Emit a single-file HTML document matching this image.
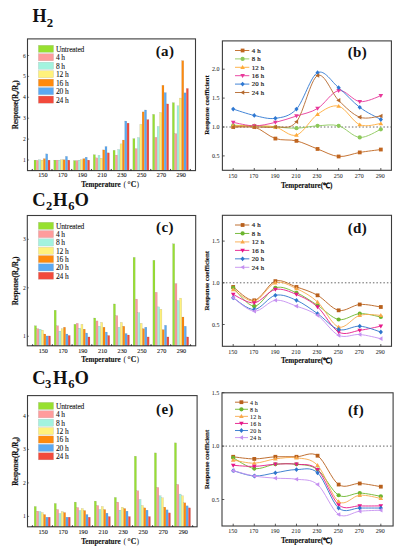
<!DOCTYPE html>
<html><head><meta charset="utf-8"><style>
html,body{margin:0;padding:0;background:#fff;width:401px;height:550px;overflow:hidden}
svg{display:block}
text{font-family:"Liberation Serif", serif;fill:#111}
</style></head><body>
<svg width="401" height="550" viewBox="0 0 401 550">
<rect width="401" height="550" fill="#fff"/>
<text x="32.6" y="21.8" font-size="18" font-weight="bold" fill="#111">H</text>
<text x="46.8" y="26.7" font-size="12.8" font-weight="bold" fill="#111">2</text>
<text x="32.3" y="205.6" font-size="18.5" font-weight="bold" fill="#111">C</text>
<text x="45.9" y="210" font-size="12.5" font-weight="bold" fill="#111">2</text>
<text x="53" y="205.6" font-size="18.5" font-weight="bold" fill="#111">H</text>
<text x="68.2" y="210" font-size="12.5" font-weight="bold" fill="#111">6</text>
<text x="74.6" y="205.6" font-size="18.5" font-weight="bold" fill="#111">O</text>
<text x="32.3" y="383.5" font-size="18.5" font-weight="bold" fill="#111">C</text>
<text x="45" y="388.3" font-size="12.5" font-weight="bold" fill="#111">3</text>
<text x="53" y="383.5" font-size="18.5" font-weight="bold" fill="#111">H</text>
<text x="68.2" y="388.3" font-size="12.5" font-weight="bold" fill="#111">6</text>
<text x="74.6" y="383.5" font-size="18.5" font-weight="bold" fill="#111">O</text>
<rect x="34.05" y="160.15" width="2.03" height="10.6" fill="#97e030" stroke="rgba(0,0,0,0.22)" stroke-width="0.35"/>
<rect x="36.38" y="160.36" width="2.03" height="10.39" fill="#ff9c9c" stroke="rgba(0,0,0,0.22)" stroke-width="0.35"/>
<rect x="38.71" y="159.73" width="2.03" height="11.02" fill="#a3f3df" stroke="rgba(0,0,0,0.22)" stroke-width="0.35"/>
<rect x="41.04" y="160.15" width="2.03" height="10.6" fill="#fff27c" stroke="rgba(0,0,0,0.22)" stroke-width="0.35"/>
<rect x="43.37" y="158.69" width="2.03" height="12.06" fill="#ff8a0c" stroke="rgba(0,0,0,0.22)" stroke-width="0.35"/>
<rect x="45.7" y="153.88" width="2.03" height="16.87" fill="#5ba9f2" stroke="rgba(0,0,0,0.22)" stroke-width="0.35"/>
<rect x="48.03" y="160.15" width="2.03" height="10.6" fill="#f24a3c" stroke="rgba(0,0,0,0.22)" stroke-width="0.35"/>
<rect x="53.81" y="160.15" width="2.03" height="10.6" fill="#97e030" stroke="rgba(0,0,0,0.22)" stroke-width="0.35"/>
<rect x="56.14" y="160.15" width="2.03" height="10.6" fill="#ff9c9c" stroke="rgba(0,0,0,0.22)" stroke-width="0.35"/>
<rect x="58.47" y="160.15" width="2.03" height="10.6" fill="#a3f3df" stroke="rgba(0,0,0,0.22)" stroke-width="0.35"/>
<rect x="60.8" y="159.73" width="2.03" height="11.02" fill="#fff27c" stroke="rgba(0,0,0,0.22)" stroke-width="0.35"/>
<rect x="63.13" y="159.73" width="2.03" height="11.02" fill="#ff8a0c" stroke="rgba(0,0,0,0.22)" stroke-width="0.35"/>
<rect x="65.46" y="156.39" width="2.03" height="14.36" fill="#5ba9f2" stroke="rgba(0,0,0,0.22)" stroke-width="0.35"/>
<rect x="67.79" y="160.15" width="2.03" height="10.6" fill="#f24a3c" stroke="rgba(0,0,0,0.22)" stroke-width="0.35"/>
<rect x="73.57" y="160.57" width="2.03" height="10.18" fill="#97e030" stroke="rgba(0,0,0,0.22)" stroke-width="0.35"/>
<rect x="75.9" y="160.57" width="2.03" height="10.18" fill="#ff9c9c" stroke="rgba(0,0,0,0.22)" stroke-width="0.35"/>
<rect x="78.23" y="160.15" width="2.03" height="10.6" fill="#a3f3df" stroke="rgba(0,0,0,0.22)" stroke-width="0.35"/>
<rect x="80.56" y="159.73" width="2.03" height="11.02" fill="#fff27c" stroke="rgba(0,0,0,0.22)" stroke-width="0.35"/>
<rect x="82.89" y="158.69" width="2.03" height="12.06" fill="#ff8a0c" stroke="rgba(0,0,0,0.22)" stroke-width="0.35"/>
<rect x="85.22" y="157.22" width="2.03" height="13.53" fill="#5ba9f2" stroke="rgba(0,0,0,0.22)" stroke-width="0.35"/>
<rect x="87.55" y="160.15" width="2.03" height="10.6" fill="#f24a3c" stroke="rgba(0,0,0,0.22)" stroke-width="0.35"/>
<rect x="93.33" y="154.72" width="2.03" height="16.03" fill="#97e030" stroke="rgba(0,0,0,0.22)" stroke-width="0.35"/>
<rect x="95.66" y="157.85" width="2.03" height="12.9" fill="#ff9c9c" stroke="rgba(0,0,0,0.22)" stroke-width="0.35"/>
<rect x="97.99" y="155.34" width="2.03" height="15.41" fill="#a3f3df" stroke="rgba(0,0,0,0.22)" stroke-width="0.35"/>
<rect x="100.32" y="158.27" width="2.03" height="12.48" fill="#fff27c" stroke="rgba(0,0,0,0.22)" stroke-width="0.35"/>
<rect x="102.65" y="149.91" width="2.03" height="20.84" fill="#ff8a0c" stroke="rgba(0,0,0,0.22)" stroke-width="0.35"/>
<rect x="104.98" y="146.56" width="2.03" height="24.19" fill="#5ba9f2" stroke="rgba(0,0,0,0.22)" stroke-width="0.35"/>
<rect x="107.31" y="152.84" width="2.03" height="17.91" fill="#f24a3c" stroke="rgba(0,0,0,0.22)" stroke-width="0.35"/>
<rect x="113.09" y="150.33" width="2.03" height="20.42" fill="#97e030" stroke="rgba(0,0,0,0.22)" stroke-width="0.35"/>
<rect x="115.42" y="155.13" width="2.03" height="15.62" fill="#ff9c9c" stroke="rgba(0,0,0,0.22)" stroke-width="0.35"/>
<rect x="117.75" y="149.49" width="2.03" height="21.26" fill="#a3f3df" stroke="rgba(0,0,0,0.22)" stroke-width="0.35"/>
<rect x="120.08" y="143.85" width="2.03" height="26.9" fill="#fff27c" stroke="rgba(0,0,0,0.22)" stroke-width="0.35"/>
<rect x="122.41" y="140.09" width="2.03" height="30.66" fill="#ff8a0c" stroke="rgba(0,0,0,0.22)" stroke-width="0.35"/>
<rect x="124.74" y="121.07" width="2.03" height="49.68" fill="#5ba9f2" stroke="rgba(0,0,0,0.22)" stroke-width="0.35"/>
<rect x="127.07" y="123.16" width="2.03" height="47.59" fill="#f24a3c" stroke="rgba(0,0,0,0.22)" stroke-width="0.35"/>
<rect x="132.85" y="138.62" width="2.03" height="32.13" fill="#97e030" stroke="rgba(0,0,0,0.22)" stroke-width="0.35"/>
<rect x="135.18" y="148.66" width="2.03" height="22.09" fill="#ff9c9c" stroke="rgba(0,0,0,0.22)" stroke-width="0.35"/>
<rect x="137.51" y="137.58" width="2.03" height="33.17" fill="#a3f3df" stroke="rgba(0,0,0,0.22)" stroke-width="0.35"/>
<rect x="139.84" y="124.41" width="2.03" height="46.34" fill="#fff27c" stroke="rgba(0,0,0,0.22)" stroke-width="0.35"/>
<rect x="142.17" y="111.87" width="2.03" height="58.88" fill="#ff8a0c" stroke="rgba(0,0,0,0.22)" stroke-width="0.35"/>
<rect x="144.5" y="109.99" width="2.03" height="60.76" fill="#5ba9f2" stroke="rgba(0,0,0,0.22)" stroke-width="0.35"/>
<rect x="146.83" y="119.6" width="2.03" height="51.15" fill="#f24a3c" stroke="rgba(0,0,0,0.22)" stroke-width="0.35"/>
<rect x="152.61" y="114.38" width="2.03" height="56.37" fill="#97e030" stroke="rgba(0,0,0,0.22)" stroke-width="0.35"/>
<rect x="154.94" y="137.37" width="2.03" height="33.38" fill="#ff9c9c" stroke="rgba(0,0,0,0.22)" stroke-width="0.35"/>
<rect x="157.27" y="126.5" width="2.03" height="44.25" fill="#a3f3df" stroke="rgba(0,0,0,0.22)" stroke-width="0.35"/>
<rect x="159.6" y="112.5" width="2.03" height="58.25" fill="#fff27c" stroke="rgba(0,0,0,0.22)" stroke-width="0.35"/>
<rect x="161.93" y="85.33" width="2.03" height="85.42" fill="#ff8a0c" stroke="rgba(0,0,0,0.22)" stroke-width="0.35"/>
<rect x="164.26" y="92.64" width="2.03" height="78.11" fill="#5ba9f2" stroke="rgba(0,0,0,0.22)" stroke-width="0.35"/>
<rect x="166.59" y="103.93" width="2.03" height="66.82" fill="#f24a3c" stroke="rgba(0,0,0,0.22)" stroke-width="0.35"/>
<rect x="172.37" y="102.68" width="2.03" height="68.07" fill="#97e030" stroke="rgba(0,0,0,0.22)" stroke-width="0.35"/>
<rect x="174.7" y="133.61" width="2.03" height="37.14" fill="#ff9c9c" stroke="rgba(0,0,0,0.22)" stroke-width="0.35"/>
<rect x="177.03" y="105.81" width="2.03" height="64.94" fill="#a3f3df" stroke="rgba(0,0,0,0.22)" stroke-width="0.35"/>
<rect x="179.36" y="98.08" width="2.03" height="72.67" fill="#fff27c" stroke="rgba(0,0,0,0.22)" stroke-width="0.35"/>
<rect x="181.69" y="60.67" width="2.03" height="110.08" fill="#ff8a0c" stroke="rgba(0,0,0,0.22)" stroke-width="0.35"/>
<rect x="184.02" y="92.85" width="2.03" height="77.9" fill="#5ba9f2" stroke="rgba(0,0,0,0.22)" stroke-width="0.35"/>
<rect x="186.35" y="88.46" width="2.03" height="82.29" fill="#f24a3c" stroke="rgba(0,0,0,0.22)" stroke-width="0.35"/>
<rect x="27.5" y="38.9" width="168" height="131.7" fill="none" stroke="#3c3c3c" stroke-width="1.1"/>
<line x1="27.5" y1="160" x2="29.1" y2="160" stroke="#333" stroke-width="0.6" />
<text x="25.9" y="162" font-size="5.6" text-anchor="end" fill="#444">1</text>
<line x1="27.5" y1="139.1" x2="29.1" y2="139.1" stroke="#333" stroke-width="0.6" />
<text x="25.9" y="141.1" font-size="5.6" text-anchor="end" fill="#444">2</text>
<line x1="27.5" y1="118.2" x2="29.1" y2="118.2" stroke="#333" stroke-width="0.6" />
<text x="25.9" y="120.2" font-size="5.6" text-anchor="end" fill="#444">3</text>
<line x1="27.5" y1="97.3" x2="29.1" y2="97.3" stroke="#333" stroke-width="0.6" />
<text x="25.9" y="99.3" font-size="5.6" text-anchor="end" fill="#444">4</text>
<line x1="27.5" y1="76.4" x2="29.1" y2="76.4" stroke="#333" stroke-width="0.6" />
<text x="25.9" y="78.4" font-size="5.6" text-anchor="end" fill="#444">5</text>
<line x1="27.5" y1="55.5" x2="29.1" y2="55.5" stroke="#333" stroke-width="0.6" />
<text x="25.9" y="57.5" font-size="5.6" text-anchor="end" fill="#444">6</text>
<polygon points="31.1,170.6 33.3,170.6 32.2,168.8" fill="#222"/>
<polygon points="50.86,170.6 53.06,170.6 51.96,168.8" fill="#222"/>
<polygon points="70.62,170.6 72.82,170.6 71.72,168.8" fill="#222"/>
<polygon points="90.38,170.6 92.58,170.6 91.48,168.8" fill="#222"/>
<polygon points="110.14,170.6 112.34,170.6 111.24,168.8" fill="#222"/>
<polygon points="129.9,170.6 132.1,170.6 131,168.8" fill="#222"/>
<polygon points="149.66,170.6 151.86,170.6 150.76,168.8" fill="#222"/>
<polygon points="169.42,170.6 171.62,170.6 170.52,168.8" fill="#222"/>
<polygon points="189.18,170.6 191.38,170.6 190.28,168.8" fill="#222"/>
<text x="42.9" y="177" font-size="6.2" text-anchor="middle" fill="#333" stroke="#333" stroke-width="0.1">150</text>
<text x="62.66" y="177" font-size="6.2" text-anchor="middle" fill="#333" stroke="#333" stroke-width="0.1">170</text>
<text x="82.42" y="177" font-size="6.2" text-anchor="middle" fill="#333" stroke="#333" stroke-width="0.1">190</text>
<text x="102.18" y="177" font-size="6.2" text-anchor="middle" fill="#333" stroke="#333" stroke-width="0.1">210</text>
<text x="121.94" y="177" font-size="6.2" text-anchor="middle" fill="#333" stroke="#333" stroke-width="0.1">230</text>
<text x="141.7" y="177" font-size="6.2" text-anchor="middle" fill="#333" stroke="#333" stroke-width="0.1">250</text>
<text x="161.46" y="177" font-size="6.2" text-anchor="middle" fill="#333" stroke="#333" stroke-width="0.1">270</text>
<text x="181.22" y="177" font-size="6.2" text-anchor="middle" fill="#333" stroke="#333" stroke-width="0.1">290</text>
<rect x="38.3" y="45.2" width="15.3" height="7.2" fill="#97e030" stroke="#b5b5b5" stroke-width="0.25"/>
<text x="56" y="51.7" font-size="7.5" text-anchor="start" fill="#222" letter-spacing="-0.15" stroke="#222" stroke-width="0.08">Untreated</text>
<rect x="38.3" y="53.67" width="15.3" height="7.2" fill="#ff9c9c" stroke="#b5b5b5" stroke-width="0.25"/>
<text x="56" y="60.17" font-size="7.5" text-anchor="start" fill="#222" letter-spacing="-0.15" stroke="#222" stroke-width="0.08">4 h</text>
<rect x="38.3" y="62.14" width="15.3" height="7.2" fill="#a3f3df" stroke="#b5b5b5" stroke-width="0.25"/>
<text x="56" y="68.64" font-size="7.5" text-anchor="start" fill="#222" letter-spacing="-0.15" stroke="#222" stroke-width="0.08">8 h</text>
<rect x="38.3" y="70.61" width="15.3" height="7.2" fill="#fff27c" stroke="#b5b5b5" stroke-width="0.25"/>
<text x="56" y="77.11" font-size="7.5" text-anchor="start" fill="#222" letter-spacing="-0.15" stroke="#222" stroke-width="0.08">12 h</text>
<rect x="38.3" y="79.08" width="15.3" height="7.2" fill="#ff8a0c" stroke="#b5b5b5" stroke-width="0.25"/>
<text x="56" y="85.58" font-size="7.5" text-anchor="start" fill="#222" letter-spacing="-0.15" stroke="#222" stroke-width="0.08">16 h</text>
<rect x="38.3" y="87.55" width="15.3" height="7.2" fill="#5ba9f2" stroke="#b5b5b5" stroke-width="0.25"/>
<text x="56" y="94.05" font-size="7.5" text-anchor="start" fill="#222" letter-spacing="-0.15" stroke="#222" stroke-width="0.08">20 h</text>
<rect x="38.3" y="96.02" width="15.3" height="7.2" fill="#f24a3c" stroke="#b5b5b5" stroke-width="0.25"/>
<text x="56" y="102.52" font-size="7.5" text-anchor="start" fill="#222" letter-spacing="-0.15" stroke="#222" stroke-width="0.08">24 h</text>
<text x="165" y="56.2" font-size="15" text-anchor="middle" font-weight="bold" letter-spacing="0.4" fill="#111">(a)</text>
<text x="81.2" y="187" font-size="7.2" text-anchor="start" font-weight="bold" textLength="39.6" lengthAdjust="spacingAndGlyphs" stroke="#111" stroke-width="0.12">Temperature</text>
<text x="123.6" y="187" font-size="7.6" text-anchor="start" >(</text>
<text x="127.6" y="187" font-size="7.6" text-anchor="start" font-weight="bold" stroke="#111" stroke-width="0.12">°C</text>
<text x="136.6" y="187" font-size="7.6" text-anchor="start" >)</text>
<text x="17.9" y="104.8" font-size="7.2" font-weight="bold" text-anchor="middle" transform="rotate(-90 17.9 104.8)" letter-spacing="-0.12" stroke="#111" stroke-width="0.15" fill="#111">Response(R<tspan font-size="4.6" dy="1.3">a</tspan><tspan dy="-1.3">/R</tspan><tspan font-size="4.6" dy="1.3">g</tspan><tspan dy="-1.3">)</tspan></text>
<rect x="34.45" y="325.78" width="2.03" height="20.17" fill="#97e030" stroke="rgba(0,0,0,0.22)" stroke-width="0.35"/>
<rect x="36.78" y="328.69" width="2.03" height="17.26" fill="#ff9c9c" stroke="rgba(0,0,0,0.22)" stroke-width="0.35"/>
<rect x="39.11" y="329.18" width="2.03" height="16.77" fill="#a3f3df" stroke="rgba(0,0,0,0.22)" stroke-width="0.35"/>
<rect x="41.44" y="330.14" width="2.03" height="15.81" fill="#fff27c" stroke="rgba(0,0,0,0.22)" stroke-width="0.35"/>
<rect x="43.77" y="334.02" width="2.03" height="11.93" fill="#ff8a0c" stroke="rgba(0,0,0,0.22)" stroke-width="0.35"/>
<rect x="46.1" y="335.96" width="2.03" height="9.99" fill="#5ba9f2" stroke="rgba(0,0,0,0.22)" stroke-width="0.35"/>
<rect x="48.43" y="335.96" width="2.03" height="9.99" fill="#f24a3c" stroke="rgba(0,0,0,0.22)" stroke-width="0.35"/>
<rect x="54.19" y="310.26" width="2.03" height="35.69" fill="#97e030" stroke="rgba(0,0,0,0.22)" stroke-width="0.35"/>
<rect x="56.52" y="325.78" width="2.03" height="20.17" fill="#ff9c9c" stroke="rgba(0,0,0,0.22)" stroke-width="0.35"/>
<rect x="58.85" y="331.12" width="2.03" height="14.83" fill="#a3f3df" stroke="rgba(0,0,0,0.22)" stroke-width="0.35"/>
<rect x="61.18" y="328.69" width="2.03" height="17.26" fill="#fff27c" stroke="rgba(0,0,0,0.22)" stroke-width="0.35"/>
<rect x="63.51" y="327.24" width="2.03" height="18.71" fill="#ff8a0c" stroke="rgba(0,0,0,0.22)" stroke-width="0.35"/>
<rect x="65.84" y="334.02" width="2.03" height="11.93" fill="#5ba9f2" stroke="rgba(0,0,0,0.22)" stroke-width="0.35"/>
<rect x="68.17" y="335.48" width="2.03" height="10.47" fill="#f24a3c" stroke="rgba(0,0,0,0.22)" stroke-width="0.35"/>
<rect x="73.93" y="324.32" width="2.03" height="21.62" fill="#97e030" stroke="rgba(0,0,0,0.22)" stroke-width="0.35"/>
<rect x="76.26" y="323.35" width="2.03" height="22.6" fill="#ff9c9c" stroke="rgba(0,0,0,0.22)" stroke-width="0.35"/>
<rect x="78.59" y="328.2" width="2.03" height="17.75" fill="#a3f3df" stroke="rgba(0,0,0,0.22)" stroke-width="0.35"/>
<rect x="80.92" y="324.32" width="2.03" height="21.62" fill="#fff27c" stroke="rgba(0,0,0,0.22)" stroke-width="0.35"/>
<rect x="83.25" y="329.18" width="2.03" height="16.77" fill="#ff8a0c" stroke="rgba(0,0,0,0.22)" stroke-width="0.35"/>
<rect x="85.58" y="333.06" width="2.03" height="12.89" fill="#5ba9f2" stroke="rgba(0,0,0,0.22)" stroke-width="0.35"/>
<rect x="87.91" y="336.94" width="2.03" height="9.01" fill="#f24a3c" stroke="rgba(0,0,0,0.22)" stroke-width="0.35"/>
<rect x="93.67" y="318.02" width="2.03" height="27.93" fill="#97e030" stroke="rgba(0,0,0,0.22)" stroke-width="0.35"/>
<rect x="96" y="320.93" width="2.03" height="25.02" fill="#ff9c9c" stroke="rgba(0,0,0,0.22)" stroke-width="0.35"/>
<rect x="98.33" y="326.26" width="2.03" height="19.69" fill="#a3f3df" stroke="rgba(0,0,0,0.22)" stroke-width="0.35"/>
<rect x="100.66" y="322.38" width="2.03" height="23.56" fill="#fff27c" stroke="rgba(0,0,0,0.22)" stroke-width="0.35"/>
<rect x="102.99" y="327.24" width="2.03" height="18.71" fill="#ff8a0c" stroke="rgba(0,0,0,0.22)" stroke-width="0.35"/>
<rect x="105.32" y="332.08" width="2.03" height="13.87" fill="#5ba9f2" stroke="rgba(0,0,0,0.22)" stroke-width="0.35"/>
<rect x="107.65" y="335.48" width="2.03" height="10.47" fill="#f24a3c" stroke="rgba(0,0,0,0.22)" stroke-width="0.35"/>
<rect x="113.41" y="303.95" width="2.03" height="42" fill="#97e030" stroke="rgba(0,0,0,0.22)" stroke-width="0.35"/>
<rect x="115.74" y="315.59" width="2.03" height="30.36" fill="#ff9c9c" stroke="rgba(0,0,0,0.22)" stroke-width="0.35"/>
<rect x="118.07" y="327.24" width="2.03" height="18.71" fill="#a3f3df" stroke="rgba(0,0,0,0.22)" stroke-width="0.35"/>
<rect x="120.4" y="322.38" width="2.03" height="23.56" fill="#fff27c" stroke="rgba(0,0,0,0.22)" stroke-width="0.35"/>
<rect x="122.73" y="326.26" width="2.03" height="19.69" fill="#ff8a0c" stroke="rgba(0,0,0,0.22)" stroke-width="0.35"/>
<rect x="125.06" y="333.54" width="2.03" height="12.41" fill="#5ba9f2" stroke="rgba(0,0,0,0.22)" stroke-width="0.35"/>
<rect x="127.39" y="335" width="2.03" height="10.95" fill="#f24a3c" stroke="rgba(0,0,0,0.22)" stroke-width="0.35"/>
<rect x="133.15" y="257.39" width="2.03" height="88.56" fill="#97e030" stroke="rgba(0,0,0,0.22)" stroke-width="0.35"/>
<rect x="135.48" y="299.11" width="2.03" height="46.84" fill="#ff9c9c" stroke="rgba(0,0,0,0.22)" stroke-width="0.35"/>
<rect x="137.81" y="312.69" width="2.03" height="33.26" fill="#a3f3df" stroke="rgba(0,0,0,0.22)" stroke-width="0.35"/>
<rect x="140.14" y="323.35" width="2.03" height="22.6" fill="#fff27c" stroke="rgba(0,0,0,0.22)" stroke-width="0.35"/>
<rect x="142.47" y="328.69" width="2.03" height="17.26" fill="#ff8a0c" stroke="rgba(0,0,0,0.22)" stroke-width="0.35"/>
<rect x="144.8" y="327.24" width="2.03" height="18.71" fill="#5ba9f2" stroke="rgba(0,0,0,0.22)" stroke-width="0.35"/>
<rect x="147.13" y="336.94" width="2.03" height="9.01" fill="#f24a3c" stroke="rgba(0,0,0,0.22)" stroke-width="0.35"/>
<rect x="152.89" y="260.31" width="2.03" height="85.64" fill="#97e030" stroke="rgba(0,0,0,0.22)" stroke-width="0.35"/>
<rect x="155.22" y="292.31" width="2.03" height="53.63" fill="#ff9c9c" stroke="rgba(0,0,0,0.22)" stroke-width="0.35"/>
<rect x="157.55" y="306.87" width="2.03" height="39.08" fill="#a3f3df" stroke="rgba(0,0,0,0.22)" stroke-width="0.35"/>
<rect x="159.88" y="309.29" width="2.03" height="36.66" fill="#fff27c" stroke="rgba(0,0,0,0.22)" stroke-width="0.35"/>
<rect x="162.21" y="329.66" width="2.03" height="16.29" fill="#ff8a0c" stroke="rgba(0,0,0,0.22)" stroke-width="0.35"/>
<rect x="164.54" y="325.3" width="2.03" height="20.65" fill="#5ba9f2" stroke="rgba(0,0,0,0.22)" stroke-width="0.35"/>
<rect x="166.87" y="336.94" width="2.03" height="9.01" fill="#f24a3c" stroke="rgba(0,0,0,0.22)" stroke-width="0.35"/>
<rect x="172.63" y="243.82" width="2.03" height="102.13" fill="#97e030" stroke="rgba(0,0,0,0.22)" stroke-width="0.35"/>
<rect x="174.96" y="283.58" width="2.03" height="62.37" fill="#ff9c9c" stroke="rgba(0,0,0,0.22)" stroke-width="0.35"/>
<rect x="177.29" y="300.56" width="2.03" height="45.39" fill="#a3f3df" stroke="rgba(0,0,0,0.22)" stroke-width="0.35"/>
<rect x="179.62" y="298.13" width="2.03" height="47.81" fill="#fff27c" stroke="rgba(0,0,0,0.22)" stroke-width="0.35"/>
<rect x="181.95" y="317.05" width="2.03" height="28.9" fill="#ff8a0c" stroke="rgba(0,0,0,0.22)" stroke-width="0.35"/>
<rect x="184.28" y="326.26" width="2.03" height="19.69" fill="#5ba9f2" stroke="rgba(0,0,0,0.22)" stroke-width="0.35"/>
<rect x="186.61" y="336.94" width="2.03" height="9.01" fill="#f24a3c" stroke="rgba(0,0,0,0.22)" stroke-width="0.35"/>
<rect x="27.3" y="215.5" width="168.4" height="130.3" fill="none" stroke="#3c3c3c" stroke-width="1.1"/>
<line x1="27.3" y1="336.3" x2="28.9" y2="336.3" stroke="#333" stroke-width="0.6" />
<text x="25.7" y="338.3" font-size="5.6" text-anchor="end" fill="#444">1</text>
<line x1="27.3" y1="287.8" x2="28.9" y2="287.8" stroke="#333" stroke-width="0.6" />
<text x="25.7" y="289.8" font-size="5.6" text-anchor="end" fill="#444">2</text>
<line x1="27.3" y1="239.3" x2="28.9" y2="239.3" stroke="#333" stroke-width="0.6" />
<text x="25.7" y="241.3" font-size="5.6" text-anchor="end" fill="#444">3</text>
<polygon points="31.5,345.8 33.7,345.8 32.6,344" fill="#222"/>
<polygon points="51.24,345.8 53.44,345.8 52.34,344" fill="#222"/>
<polygon points="70.98,345.8 73.18,345.8 72.08,344" fill="#222"/>
<polygon points="90.72,345.8 92.92,345.8 91.82,344" fill="#222"/>
<polygon points="110.46,345.8 112.66,345.8 111.56,344" fill="#222"/>
<polygon points="130.2,345.8 132.4,345.8 131.3,344" fill="#222"/>
<polygon points="149.94,345.8 152.14,345.8 151.04,344" fill="#222"/>
<polygon points="169.68,345.8 171.88,345.8 170.78,344" fill="#222"/>
<polygon points="189.42,345.8 191.62,345.8 190.52,344" fill="#222"/>
<text x="43.3" y="352.6" font-size="6.2" text-anchor="middle" fill="#333" stroke="#333" stroke-width="0.1">150</text>
<text x="63.04" y="352.6" font-size="6.2" text-anchor="middle" fill="#333" stroke="#333" stroke-width="0.1">170</text>
<text x="82.78" y="352.6" font-size="6.2" text-anchor="middle" fill="#333" stroke="#333" stroke-width="0.1">190</text>
<text x="102.52" y="352.6" font-size="6.2" text-anchor="middle" fill="#333" stroke="#333" stroke-width="0.1">210</text>
<text x="122.26" y="352.6" font-size="6.2" text-anchor="middle" fill="#333" stroke="#333" stroke-width="0.1">230</text>
<text x="142" y="352.6" font-size="6.2" text-anchor="middle" fill="#333" stroke="#333" stroke-width="0.1">250</text>
<text x="161.74" y="352.6" font-size="6.2" text-anchor="middle" fill="#333" stroke="#333" stroke-width="0.1">270</text>
<text x="181.48" y="352.6" font-size="6.2" text-anchor="middle" fill="#333" stroke="#333" stroke-width="0.1">290</text>
<rect x="38.3" y="222.2" width="15.3" height="7.2" fill="#97e030" stroke="#b5b5b5" stroke-width="0.25"/>
<text x="56" y="228.7" font-size="7.5" text-anchor="start" fill="#222" letter-spacing="-0.15" stroke="#222" stroke-width="0.08">Untreated</text>
<rect x="38.3" y="230.52" width="15.3" height="7.2" fill="#ff9c9c" stroke="#b5b5b5" stroke-width="0.25"/>
<text x="56" y="237.02" font-size="7.5" text-anchor="start" fill="#222" letter-spacing="-0.15" stroke="#222" stroke-width="0.08">4 h</text>
<rect x="38.3" y="238.84" width="15.3" height="7.2" fill="#a3f3df" stroke="#b5b5b5" stroke-width="0.25"/>
<text x="56" y="245.34" font-size="7.5" text-anchor="start" fill="#222" letter-spacing="-0.15" stroke="#222" stroke-width="0.08">8 h</text>
<rect x="38.3" y="247.16" width="15.3" height="7.2" fill="#fff27c" stroke="#b5b5b5" stroke-width="0.25"/>
<text x="56" y="253.66" font-size="7.5" text-anchor="start" fill="#222" letter-spacing="-0.15" stroke="#222" stroke-width="0.08">12 h</text>
<rect x="38.3" y="255.48" width="15.3" height="7.2" fill="#ff8a0c" stroke="#b5b5b5" stroke-width="0.25"/>
<text x="56" y="261.98" font-size="7.5" text-anchor="start" fill="#222" letter-spacing="-0.15" stroke="#222" stroke-width="0.08">16 h</text>
<rect x="38.3" y="263.8" width="15.3" height="7.2" fill="#5ba9f2" stroke="#b5b5b5" stroke-width="0.25"/>
<text x="56" y="270.3" font-size="7.5" text-anchor="start" fill="#222" letter-spacing="-0.15" stroke="#222" stroke-width="0.08">20 h</text>
<rect x="38.3" y="272.12" width="15.3" height="7.2" fill="#f24a3c" stroke="#b5b5b5" stroke-width="0.25"/>
<text x="56" y="278.62" font-size="7.5" text-anchor="start" fill="#222" letter-spacing="-0.15" stroke="#222" stroke-width="0.08">24 h</text>
<text x="165" y="232.3" font-size="15" text-anchor="middle" font-weight="bold" letter-spacing="0.4" fill="#111">(c)</text>
<text x="81.2" y="362" font-size="7.2" text-anchor="start" font-weight="bold" textLength="39.6" lengthAdjust="spacingAndGlyphs" stroke="#111" stroke-width="0.12">Temperature</text>
<text x="123.6" y="362" font-size="7.6" text-anchor="start" >(</text>
<text x="127.6" y="362" font-size="7.6" text-anchor="start" font-weight="bold" stroke="#111" stroke-width="0.12">°C</text>
<text x="136.6" y="362" font-size="7.6" text-anchor="start" >)</text>
<text x="17.9" y="281" font-size="7.2" font-weight="bold" text-anchor="middle" transform="rotate(-90 17.9 281)" letter-spacing="-0.12" stroke="#111" stroke-width="0.15" fill="#111">Response(R<tspan font-size="4.6" dy="1.3">a</tspan><tspan dy="-1.3">/R</tspan><tspan font-size="4.6" dy="1.3">g</tspan><tspan dy="-1.3">)</tspan></text>
<rect x="34.25" y="506.5" width="2.03" height="20.45" fill="#97e030" stroke="rgba(0,0,0,0.22)" stroke-width="0.35"/>
<rect x="36.58" y="511.19" width="2.03" height="15.76" fill="#ff9c9c" stroke="rgba(0,0,0,0.22)" stroke-width="0.35"/>
<rect x="38.91" y="511.52" width="2.03" height="15.42" fill="#a3f3df" stroke="rgba(0,0,0,0.22)" stroke-width="0.35"/>
<rect x="41.24" y="512.53" width="2.03" height="14.42" fill="#fff27c" stroke="rgba(0,0,0,0.22)" stroke-width="0.35"/>
<rect x="43.57" y="514.54" width="2.03" height="12.41" fill="#ff8a0c" stroke="rgba(0,0,0,0.22)" stroke-width="0.35"/>
<rect x="45.9" y="517.22" width="2.03" height="9.73" fill="#5ba9f2" stroke="rgba(0,0,0,0.22)" stroke-width="0.35"/>
<rect x="48.23" y="517.22" width="2.03" height="9.73" fill="#f24a3c" stroke="rgba(0,0,0,0.22)" stroke-width="0.35"/>
<rect x="54.28" y="503.48" width="2.03" height="23.46" fill="#97e030" stroke="rgba(0,0,0,0.22)" stroke-width="0.35"/>
<rect x="56.61" y="509.51" width="2.03" height="17.44" fill="#ff9c9c" stroke="rgba(0,0,0,0.22)" stroke-width="0.35"/>
<rect x="58.94" y="513.53" width="2.03" height="13.41" fill="#a3f3df" stroke="rgba(0,0,0,0.22)" stroke-width="0.35"/>
<rect x="61.27" y="511.52" width="2.03" height="15.42" fill="#fff27c" stroke="rgba(0,0,0,0.22)" stroke-width="0.35"/>
<rect x="63.6" y="512.53" width="2.03" height="14.42" fill="#ff8a0c" stroke="rgba(0,0,0,0.22)" stroke-width="0.35"/>
<rect x="65.93" y="517.22" width="2.03" height="9.73" fill="#5ba9f2" stroke="rgba(0,0,0,0.22)" stroke-width="0.35"/>
<rect x="68.26" y="517.22" width="2.03" height="9.73" fill="#f24a3c" stroke="rgba(0,0,0,0.22)" stroke-width="0.35"/>
<rect x="74.31" y="502.14" width="2.03" height="24.8" fill="#97e030" stroke="rgba(0,0,0,0.22)" stroke-width="0.35"/>
<rect x="76.64" y="507.5" width="2.03" height="19.44" fill="#ff9c9c" stroke="rgba(0,0,0,0.22)" stroke-width="0.35"/>
<rect x="78.97" y="510.52" width="2.03" height="16.43" fill="#a3f3df" stroke="rgba(0,0,0,0.22)" stroke-width="0.35"/>
<rect x="81.3" y="508.51" width="2.03" height="18.44" fill="#fff27c" stroke="rgba(0,0,0,0.22)" stroke-width="0.35"/>
<rect x="83.63" y="510.52" width="2.03" height="16.43" fill="#ff8a0c" stroke="rgba(0,0,0,0.22)" stroke-width="0.35"/>
<rect x="85.96" y="514.54" width="2.03" height="12.41" fill="#5ba9f2" stroke="rgba(0,0,0,0.22)" stroke-width="0.35"/>
<rect x="88.29" y="517.22" width="2.03" height="9.73" fill="#f24a3c" stroke="rgba(0,0,0,0.22)" stroke-width="0.35"/>
<rect x="94.34" y="501.14" width="2.03" height="25.81" fill="#97e030" stroke="rgba(0,0,0,0.22)" stroke-width="0.35"/>
<rect x="96.67" y="505.49" width="2.03" height="21.45" fill="#ff9c9c" stroke="rgba(0,0,0,0.22)" stroke-width="0.35"/>
<rect x="99" y="509.51" width="2.03" height="17.44" fill="#a3f3df" stroke="rgba(0,0,0,0.22)" stroke-width="0.35"/>
<rect x="101.33" y="506.5" width="2.03" height="20.45" fill="#fff27c" stroke="rgba(0,0,0,0.22)" stroke-width="0.35"/>
<rect x="103.66" y="509.51" width="2.03" height="17.44" fill="#ff8a0c" stroke="rgba(0,0,0,0.22)" stroke-width="0.35"/>
<rect x="105.99" y="513.2" width="2.03" height="13.75" fill="#5ba9f2" stroke="rgba(0,0,0,0.22)" stroke-width="0.35"/>
<rect x="108.32" y="516.55" width="2.03" height="10.4" fill="#f24a3c" stroke="rgba(0,0,0,0.22)" stroke-width="0.35"/>
<rect x="114.37" y="497.45" width="2.03" height="29.5" fill="#97e030" stroke="rgba(0,0,0,0.22)" stroke-width="0.35"/>
<rect x="116.7" y="502.14" width="2.03" height="24.8" fill="#ff9c9c" stroke="rgba(0,0,0,0.22)" stroke-width="0.35"/>
<rect x="119.03" y="510.18" width="2.03" height="16.76" fill="#a3f3df" stroke="rgba(0,0,0,0.22)" stroke-width="0.35"/>
<rect x="121.36" y="507.17" width="2.03" height="19.78" fill="#fff27c" stroke="rgba(0,0,0,0.22)" stroke-width="0.35"/>
<rect x="123.69" y="508.51" width="2.03" height="18.44" fill="#ff8a0c" stroke="rgba(0,0,0,0.22)" stroke-width="0.35"/>
<rect x="126.02" y="511.19" width="2.03" height="15.76" fill="#5ba9f2" stroke="rgba(0,0,0,0.22)" stroke-width="0.35"/>
<rect x="128.35" y="516.55" width="2.03" height="10.4" fill="#f24a3c" stroke="rgba(0,0,0,0.22)" stroke-width="0.35"/>
<rect x="134.4" y="456.25" width="2.03" height="70.7" fill="#97e030" stroke="rgba(0,0,0,0.22)" stroke-width="0.35"/>
<rect x="136.73" y="490.75" width="2.03" height="36.19" fill="#ff9c9c" stroke="rgba(0,0,0,0.22)" stroke-width="0.35"/>
<rect x="139.06" y="499.46" width="2.03" height="27.48" fill="#a3f3df" stroke="rgba(0,0,0,0.22)" stroke-width="0.35"/>
<rect x="141.39" y="505.49" width="2.03" height="21.45" fill="#fff27c" stroke="rgba(0,0,0,0.22)" stroke-width="0.35"/>
<rect x="143.72" y="507.84" width="2.03" height="19.11" fill="#ff8a0c" stroke="rgba(0,0,0,0.22)" stroke-width="0.35"/>
<rect x="146.05" y="510.18" width="2.03" height="16.76" fill="#5ba9f2" stroke="rgba(0,0,0,0.22)" stroke-width="0.35"/>
<rect x="148.38" y="516.55" width="2.03" height="10.4" fill="#f24a3c" stroke="rgba(0,0,0,0.22)" stroke-width="0.35"/>
<rect x="154.43" y="452.9" width="2.03" height="74.05" fill="#97e030" stroke="rgba(0,0,0,0.22)" stroke-width="0.35"/>
<rect x="156.76" y="487.4" width="2.03" height="39.54" fill="#ff9c9c" stroke="rgba(0,0,0,0.22)" stroke-width="0.35"/>
<rect x="159.09" y="495.78" width="2.03" height="31.17" fill="#a3f3df" stroke="rgba(0,0,0,0.22)" stroke-width="0.35"/>
<rect x="161.42" y="497.79" width="2.03" height="29.16" fill="#fff27c" stroke="rgba(0,0,0,0.22)" stroke-width="0.35"/>
<rect x="163.75" y="507.17" width="2.03" height="19.78" fill="#ff8a0c" stroke="rgba(0,0,0,0.22)" stroke-width="0.35"/>
<rect x="166.08" y="509.85" width="2.03" height="17.1" fill="#5ba9f2" stroke="rgba(0,0,0,0.22)" stroke-width="0.35"/>
<rect x="168.41" y="512.86" width="2.03" height="14.09" fill="#f24a3c" stroke="rgba(0,0,0,0.22)" stroke-width="0.35"/>
<rect x="174.46" y="442.85" width="2.03" height="84.1" fill="#97e030" stroke="rgba(0,0,0,0.22)" stroke-width="0.35"/>
<rect x="176.79" y="484.39" width="2.03" height="42.56" fill="#ff9c9c" stroke="rgba(0,0,0,0.22)" stroke-width="0.35"/>
<rect x="179.12" y="494.1" width="2.03" height="32.84" fill="#a3f3df" stroke="rgba(0,0,0,0.22)" stroke-width="0.35"/>
<rect x="181.45" y="495.78" width="2.03" height="31.17" fill="#fff27c" stroke="rgba(0,0,0,0.22)" stroke-width="0.35"/>
<rect x="183.78" y="502.81" width="2.03" height="24.13" fill="#ff8a0c" stroke="rgba(0,0,0,0.22)" stroke-width="0.35"/>
<rect x="186.11" y="505.83" width="2.03" height="21.12" fill="#5ba9f2" stroke="rgba(0,0,0,0.22)" stroke-width="0.35"/>
<rect x="188.44" y="507.84" width="2.03" height="19.11" fill="#f24a3c" stroke="rgba(0,0,0,0.22)" stroke-width="0.35"/>
<rect x="27.5" y="395.6" width="169.6" height="131.2" fill="none" stroke="#3c3c3c" stroke-width="1.1"/>
<line x1="27.5" y1="516.4" x2="29.1" y2="516.4" stroke="#333" stroke-width="0.6" />
<text x="25.9" y="518.4" font-size="5.6" text-anchor="end" fill="#444">1</text>
<line x1="27.5" y1="482.9" x2="29.1" y2="482.9" stroke="#333" stroke-width="0.6" />
<text x="25.9" y="484.9" font-size="5.6" text-anchor="end" fill="#444">2</text>
<line x1="27.5" y1="449.4" x2="29.1" y2="449.4" stroke="#333" stroke-width="0.6" />
<text x="25.9" y="451.4" font-size="5.6" text-anchor="end" fill="#444">3</text>
<line x1="27.5" y1="415.9" x2="29.1" y2="415.9" stroke="#333" stroke-width="0.6" />
<text x="25.9" y="417.9" font-size="5.6" text-anchor="end" fill="#444">4</text>
<polygon points="31.3,526.8 33.5,526.8 32.4,525" fill="#222"/>
<polygon points="51.33,526.8 53.53,526.8 52.43,525" fill="#222"/>
<polygon points="71.36,526.8 73.56,526.8 72.46,525" fill="#222"/>
<polygon points="91.39,526.8 93.59,526.8 92.49,525" fill="#222"/>
<polygon points="111.42,526.8 113.62,526.8 112.52,525" fill="#222"/>
<polygon points="131.45,526.8 133.65,526.8 132.55,525" fill="#222"/>
<polygon points="151.48,526.8 153.68,526.8 152.58,525" fill="#222"/>
<polygon points="171.51,526.8 173.71,526.8 172.61,525" fill="#222"/>
<polygon points="191.54,526.8 193.74,526.8 192.64,525" fill="#222"/>
<text x="43.1" y="533.8" font-size="6.2" text-anchor="middle" fill="#333" stroke="#333" stroke-width="0.1">150</text>
<text x="63.13" y="533.8" font-size="6.2" text-anchor="middle" fill="#333" stroke="#333" stroke-width="0.1">170</text>
<text x="83.16" y="533.8" font-size="6.2" text-anchor="middle" fill="#333" stroke="#333" stroke-width="0.1">190</text>
<text x="103.19" y="533.8" font-size="6.2" text-anchor="middle" fill="#333" stroke="#333" stroke-width="0.1">210</text>
<text x="123.22" y="533.8" font-size="6.2" text-anchor="middle" fill="#333" stroke="#333" stroke-width="0.1">230</text>
<text x="143.25" y="533.8" font-size="6.2" text-anchor="middle" fill="#333" stroke="#333" stroke-width="0.1">250</text>
<text x="163.28" y="533.8" font-size="6.2" text-anchor="middle" fill="#333" stroke="#333" stroke-width="0.1">270</text>
<text x="183.31" y="533.8" font-size="6.2" text-anchor="middle" fill="#333" stroke="#333" stroke-width="0.1">290</text>
<rect x="38.3" y="402.3" width="15.3" height="7.2" fill="#97e030" stroke="#b5b5b5" stroke-width="0.25"/>
<text x="56" y="408.8" font-size="7.5" text-anchor="start" fill="#222" letter-spacing="-0.15" stroke="#222" stroke-width="0.08">Untreated</text>
<rect x="38.3" y="410.7" width="15.3" height="7.2" fill="#ff9c9c" stroke="#b5b5b5" stroke-width="0.25"/>
<text x="56" y="417.2" font-size="7.5" text-anchor="start" fill="#222" letter-spacing="-0.15" stroke="#222" stroke-width="0.08">4 h</text>
<rect x="38.3" y="419.1" width="15.3" height="7.2" fill="#a3f3df" stroke="#b5b5b5" stroke-width="0.25"/>
<text x="56" y="425.6" font-size="7.5" text-anchor="start" fill="#222" letter-spacing="-0.15" stroke="#222" stroke-width="0.08">8 h</text>
<rect x="38.3" y="427.5" width="15.3" height="7.2" fill="#fff27c" stroke="#b5b5b5" stroke-width="0.25"/>
<text x="56" y="434" font-size="7.5" text-anchor="start" fill="#222" letter-spacing="-0.15" stroke="#222" stroke-width="0.08">12 h</text>
<rect x="38.3" y="435.9" width="15.3" height="7.2" fill="#ff8a0c" stroke="#b5b5b5" stroke-width="0.25"/>
<text x="56" y="442.4" font-size="7.5" text-anchor="start" fill="#222" letter-spacing="-0.15" stroke="#222" stroke-width="0.08">16 h</text>
<rect x="38.3" y="444.3" width="15.3" height="7.2" fill="#5ba9f2" stroke="#b5b5b5" stroke-width="0.25"/>
<text x="56" y="450.8" font-size="7.5" text-anchor="start" fill="#222" letter-spacing="-0.15" stroke="#222" stroke-width="0.08">20 h</text>
<rect x="38.3" y="452.7" width="15.3" height="7.2" fill="#f24a3c" stroke="#b5b5b5" stroke-width="0.25"/>
<text x="56" y="459.2" font-size="7.5" text-anchor="start" fill="#222" letter-spacing="-0.15" stroke="#222" stroke-width="0.08">24 h</text>
<text x="165" y="413.9" font-size="15" text-anchor="middle" font-weight="bold" letter-spacing="0.4" fill="#111">(e)</text>
<text x="81.2" y="543.5" font-size="7.2" text-anchor="start" font-weight="bold" textLength="39.6" lengthAdjust="spacingAndGlyphs" stroke="#111" stroke-width="0.12">Temperature</text>
<text x="123.6" y="543.5" font-size="7.6" text-anchor="start" >(</text>
<text x="127.6" y="543.5" font-size="7.6" text-anchor="start" font-weight="bold" stroke="#111" stroke-width="0.12">°C</text>
<text x="136.6" y="543.5" font-size="7.6" text-anchor="start" >)</text>
<text x="17.9" y="461.5" font-size="7.2" font-weight="bold" text-anchor="middle" transform="rotate(-90 17.9 461.5)" letter-spacing="-0.12" stroke="#111" stroke-width="0.15" fill="#111">Response(R<tspan font-size="4.6" dy="1.3">a</tspan><tspan dy="-1.3">/R</tspan><tspan font-size="4.6" dy="1.3">g</tspan><tspan dy="-1.3">)</tspan></text>
<rect x="222.4" y="40.9" width="169" height="129.4" fill="none" stroke="#3c3c3c" stroke-width="1.1"/>
<line x1="222.4" y1="127" x2="391.4" y2="127" stroke="#555" stroke-width="0.9" stroke-dasharray="1.5 2"/>
<line x1="222.4" y1="155.9" x2="224.7" y2="155.9" stroke="#333" stroke-width="0.8" />
<text x="219.6" y="157.9" font-size="6" text-anchor="end" fill="#333">0.5</text>
<line x1="222.4" y1="127" x2="224.7" y2="127" stroke="#333" stroke-width="0.8" />
<text x="219.6" y="129" font-size="6" text-anchor="end" fill="#333">1.0</text>
<line x1="222.4" y1="98.1" x2="224.7" y2="98.1" stroke="#333" stroke-width="0.8" />
<text x="219.6" y="100.1" font-size="6" text-anchor="end" fill="#333">1.5</text>
<line x1="222.4" y1="69.2" x2="224.7" y2="69.2" stroke="#333" stroke-width="0.8" />
<text x="219.6" y="71.2" font-size="6" text-anchor="end" fill="#333">2.0</text>
<line x1="233.2" y1="170.3" x2="233.2" y2="168" stroke="#333" stroke-width="0.8" />
<text x="232.7" y="177.8" font-size="6" text-anchor="middle" fill="#333">150</text>
<line x1="254.29" y1="170.3" x2="254.29" y2="168" stroke="#333" stroke-width="0.8" />
<text x="253.79" y="177.8" font-size="6" text-anchor="middle" fill="#333">170</text>
<line x1="275.38" y1="170.3" x2="275.38" y2="168" stroke="#333" stroke-width="0.8" />
<text x="274.88" y="177.8" font-size="6" text-anchor="middle" fill="#333">190</text>
<line x1="296.47" y1="170.3" x2="296.47" y2="168" stroke="#333" stroke-width="0.8" />
<text x="295.97" y="177.8" font-size="6" text-anchor="middle" fill="#333">210</text>
<line x1="317.56" y1="170.3" x2="317.56" y2="168" stroke="#333" stroke-width="0.8" />
<text x="317.06" y="177.8" font-size="6" text-anchor="middle" fill="#333">230</text>
<line x1="338.65" y1="170.3" x2="338.65" y2="168" stroke="#333" stroke-width="0.8" />
<text x="338.15" y="177.8" font-size="6" text-anchor="middle" fill="#333">250</text>
<line x1="359.74" y1="170.3" x2="359.74" y2="168" stroke="#333" stroke-width="0.8" />
<text x="359.24" y="177.8" font-size="6" text-anchor="middle" fill="#333">270</text>
<line x1="380.83" y1="170.3" x2="380.83" y2="168" stroke="#333" stroke-width="0.8" />
<text x="380.33" y="177.8" font-size="6" text-anchor="middle" fill="#333">290</text>
<path d="M233.2,127 C236.71,127 247.26,125.07 254.29,127 C261.32,128.93 268.35,136.25 275.38,138.56 C282.41,140.87 289.44,139.14 296.47,140.87 C303.5,142.61 310.53,146.36 317.56,148.96 C324.59,151.56 331.62,155.9 338.65,156.48 C345.68,157.06 352.71,153.59 359.74,152.43 C366.77,151.28 377.31,150.02 380.83,149.54" fill="none" stroke="#c0651f" stroke-width="0.9"/>
<path d="M233.2,125.27 C236.71,125.36 247.26,125.55 254.29,125.84 C261.32,126.13 268.35,126.61 275.38,127 C282.41,127.39 289.44,128.35 296.47,128.16 C303.5,127.96 310.53,126.23 317.56,125.84 C324.59,125.46 331.62,123.92 338.65,125.84 C345.68,127.77 352.71,136.83 359.74,137.4 C366.77,137.98 377.31,130.66 380.83,129.31" fill="none" stroke="#8cc85a" stroke-width="0.9"/>
<path d="M233.2,125.84 C236.71,125.84 247.26,125.65 254.29,125.84 C261.32,126.04 268.35,125.46 275.38,127 C282.41,128.54 289.44,137.21 296.47,135.09 C303.5,132.97 310.53,119.1 317.56,114.28 C324.59,109.47 331.62,104.46 338.65,106.19 C345.68,107.93 352.71,121.8 359.74,124.69 C366.77,127.58 377.31,123.72 380.83,123.53" fill="none" stroke="#ffab3a" stroke-width="0.9"/>
<path d="M233.2,122.38 C236.71,122.95 247.26,125.84 254.29,125.84 C261.32,125.84 268.35,124.01 275.38,122.38 C282.41,120.74 289.44,118.33 296.47,116.02 C303.5,113.71 310.53,112.74 317.56,108.5 C324.59,104.27 331.62,91.74 338.65,90.59 C345.68,89.43 352.71,100.7 359.74,101.57 C366.77,102.44 377.31,96.75 380.83,95.79" fill="none" stroke="#e8389a" stroke-width="0.9"/>
<path d="M233.2,109.08 C236.71,110.14 247.26,113.9 254.29,115.44 C261.32,116.98 268.35,119.39 275.38,118.33 C282.41,117.27 289.44,116.69 296.47,109.08 C303.5,101.47 310.53,76.23 317.56,72.67 C324.59,69.1 331.62,81.92 338.65,87.7 C345.68,93.48 352.71,102.05 359.74,107.35 C366.77,112.65 377.31,117.46 380.83,119.49" fill="none" stroke="#2f78d2" stroke-width="0.9"/>
<path d="M233.2,127 C236.71,127 247.26,127 254.29,127 C261.32,127 268.35,127.87 275.38,127 C282.41,126.13 289.44,130.37 296.47,121.8 C303.5,113.22 310.53,79.12 317.56,75.56 C324.59,71.99 331.62,93.48 338.65,100.41 C345.68,107.35 352.71,114.57 359.74,117.17 C366.77,119.78 377.31,116.21 380.83,116.02" fill="none" stroke="#b4682c" stroke-width="0.9"/>
<rect x="231.31" y="125.11" width="3.78" height="3.78" fill="#c0651f"/>
<rect x="252.4" y="125.11" width="3.78" height="3.78" fill="#c0651f"/>
<rect x="273.49" y="136.67" width="3.78" height="3.78" fill="#c0651f"/>
<rect x="294.58" y="138.98" width="3.78" height="3.78" fill="#c0651f"/>
<rect x="315.67" y="147.07" width="3.78" height="3.78" fill="#c0651f"/>
<rect x="336.76" y="154.59" width="3.78" height="3.78" fill="#c0651f"/>
<rect x="357.85" y="150.54" width="3.78" height="3.78" fill="#c0651f"/>
<rect x="378.94" y="147.65" width="3.78" height="3.78" fill="#c0651f"/>
<circle cx="233.2" cy="125.27" r="2.1" fill="#8cc85a"/>
<circle cx="254.29" cy="125.84" r="2.1" fill="#8cc85a"/>
<circle cx="275.38" cy="127" r="2.1" fill="#8cc85a"/>
<circle cx="296.47" cy="128.16" r="2.1" fill="#8cc85a"/>
<circle cx="317.56" cy="125.84" r="2.1" fill="#8cc85a"/>
<circle cx="338.65" cy="125.84" r="2.1" fill="#8cc85a"/>
<circle cx="359.74" cy="137.4" r="2.1" fill="#8cc85a"/>
<circle cx="380.83" cy="129.31" r="2.1" fill="#8cc85a"/>
<polygon points="233.2,123.53 230.89,127.52 235.51,127.52" fill="#ffab3a"/>
<polygon points="254.29,123.53 251.98,127.52 256.6,127.52" fill="#ffab3a"/>
<polygon points="275.38,124.69 273.07,128.68 277.69,128.68" fill="#ffab3a"/>
<polygon points="296.47,132.78 294.16,136.77 298.78,136.77" fill="#ffab3a"/>
<polygon points="317.56,111.97 315.25,115.96 319.87,115.96" fill="#ffab3a"/>
<polygon points="338.65,103.88 336.34,107.87 340.96,107.87" fill="#ffab3a"/>
<polygon points="359.74,122.38 357.43,126.37 362.05,126.37" fill="#ffab3a"/>
<polygon points="380.83,121.22 378.52,125.21 383.14,125.21" fill="#ffab3a"/>
<polygon points="233.2,124.69 230.89,120.7 235.51,120.7" fill="#e8389a"/>
<polygon points="254.29,128.15 251.98,124.16 256.6,124.16" fill="#e8389a"/>
<polygon points="275.38,124.69 273.07,120.7 277.69,120.7" fill="#e8389a"/>
<polygon points="296.47,118.33 294.16,114.34 298.78,114.34" fill="#e8389a"/>
<polygon points="317.56,110.81 315.25,106.82 319.87,106.82" fill="#e8389a"/>
<polygon points="338.65,92.9 336.34,88.91 340.96,88.91" fill="#e8389a"/>
<polygon points="359.74,103.88 357.43,99.89 362.05,99.89" fill="#e8389a"/>
<polygon points="380.83,98.1 378.52,94.11 383.14,94.11" fill="#e8389a"/>
<polygon points="233.2,106.67 235.3,109.08 233.2,111.5 231.1,109.08" fill="#2f78d2"/>
<polygon points="254.29,113.02 256.39,115.44 254.29,117.86 252.19,115.44" fill="#2f78d2"/>
<polygon points="275.38,115.92 277.48,118.33 275.38,120.75 273.28,118.33" fill="#2f78d2"/>
<polygon points="296.47,106.67 298.57,109.08 296.47,111.5 294.37,109.08" fill="#2f78d2"/>
<polygon points="317.56,70.25 319.66,72.67 317.56,75.08 315.46,72.67" fill="#2f78d2"/>
<polygon points="338.65,85.28 340.75,87.7 338.65,90.11 336.55,87.7" fill="#2f78d2"/>
<polygon points="359.74,104.93 361.84,107.35 359.74,109.76 357.64,107.35" fill="#2f78d2"/>
<polygon points="380.83,117.07 382.93,119.49 380.83,121.9 378.73,119.49" fill="#2f78d2"/>
<polygon points="230.89,127 234.88,124.69 234.88,129.31" fill="#b4682c"/>
<polygon points="251.98,127 255.97,124.69 255.97,129.31" fill="#b4682c"/>
<polygon points="273.07,127 277.06,124.69 277.06,129.31" fill="#b4682c"/>
<polygon points="294.16,121.8 298.15,119.49 298.15,124.11" fill="#b4682c"/>
<polygon points="315.25,75.56 319.24,73.25 319.24,77.87" fill="#b4682c"/>
<polygon points="336.34,100.41 340.33,98.1 340.33,102.72" fill="#b4682c"/>
<polygon points="357.43,117.17 361.42,114.86 361.42,119.48" fill="#b4682c"/>
<polygon points="378.52,116.02 382.51,113.71 382.51,118.33" fill="#b4682c"/>
<line x1="235" y1="50.5" x2="249.3" y2="50.5" stroke="#c0651f" stroke-width="0.9" />
<rect x="240.71" y="48.61" width="3.78" height="3.78" fill="#c0651f"/>
<text x="251.8" y="52.8" font-size="6.8" text-anchor="start" fill="#1a1a1a" letter-spacing="0.15" stroke="#1a1a1a" stroke-width="0.18">4 h</text>
<line x1="235" y1="58.9" x2="249.3" y2="58.9" stroke="#8cc85a" stroke-width="0.9" />
<circle cx="242.6" cy="58.9" r="2.1" fill="#8cc85a"/>
<text x="251.8" y="61.2" font-size="6.8" text-anchor="start" fill="#1a1a1a" letter-spacing="0.15" stroke="#1a1a1a" stroke-width="0.18">8 h</text>
<line x1="235" y1="67.3" x2="249.3" y2="67.3" stroke="#ffab3a" stroke-width="0.9" />
<polygon points="242.6,64.99 240.29,68.98 244.91,68.98" fill="#ffab3a"/>
<text x="251.8" y="69.6" font-size="6.8" text-anchor="start" fill="#1a1a1a" letter-spacing="0.15" stroke="#1a1a1a" stroke-width="0.18">12 h</text>
<line x1="235" y1="75.7" x2="249.3" y2="75.7" stroke="#e8389a" stroke-width="0.9" />
<polygon points="242.6,78.01 240.29,74.02 244.91,74.02" fill="#e8389a"/>
<text x="251.8" y="78" font-size="6.8" text-anchor="start" fill="#1a1a1a" letter-spacing="0.15" stroke="#1a1a1a" stroke-width="0.18">16 h</text>
<line x1="235" y1="84.1" x2="249.3" y2="84.1" stroke="#2f78d2" stroke-width="0.9" />
<polygon points="242.6,81.68 244.7,84.1 242.6,86.52 240.5,84.1" fill="#2f78d2"/>
<text x="251.8" y="86.4" font-size="6.8" text-anchor="start" fill="#1a1a1a" letter-spacing="0.15" stroke="#1a1a1a" stroke-width="0.18">20 h</text>
<line x1="235" y1="92.5" x2="249.3" y2="92.5" stroke="#b4682c" stroke-width="0.9" />
<polygon points="240.29,92.5 244.28,90.19 244.28,94.81" fill="#b4682c"/>
<text x="251.8" y="94.8" font-size="6.8" text-anchor="start" fill="#1a1a1a" letter-spacing="0.15" stroke="#1a1a1a" stroke-width="0.18">24 h</text>
<text x="357.5" y="56.8" font-size="15" text-anchor="middle" font-weight="bold" letter-spacing="0.4" fill="#111">(b)</text>
<text x="280.9" y="188.2" font-size="7.2" text-anchor="start" font-weight="bold" textLength="51.6" lengthAdjust="spacingAndGlyphs" stroke="#111" stroke-width="0.12">Temperature(℃)</text>
<text x="209.3" y="105" font-size="7" font-weight="bold" text-anchor="middle" transform="rotate(-90 209.3 105)" letter-spacing="-0.05" stroke="#111" stroke-width="0.15" fill="#111">Response coefficient</text>
<rect x="222.4" y="215.3" width="169.1" height="131" fill="none" stroke="#3c3c3c" stroke-width="1.1"/>
<line x1="222.4" y1="282.8" x2="391.5" y2="282.8" stroke="#555" stroke-width="0.9" stroke-dasharray="1.5 2"/>
<line x1="222.4" y1="324.5" x2="224.7" y2="324.5" stroke="#333" stroke-width="0.8" />
<text x="219.6" y="326.5" font-size="6" text-anchor="end" fill="#333">0.5</text>
<line x1="222.4" y1="282.8" x2="224.7" y2="282.8" stroke="#333" stroke-width="0.8" />
<text x="219.6" y="284.8" font-size="6" text-anchor="end" fill="#333">1.0</text>
<line x1="222.4" y1="241.1" x2="224.7" y2="241.1" stroke="#333" stroke-width="0.8" />
<text x="219.6" y="243.1" font-size="6" text-anchor="end" fill="#333">1.5</text>
<line x1="233.2" y1="346.3" x2="233.2" y2="344" stroke="#333" stroke-width="0.8" />
<text x="232.7" y="353.5" font-size="6" text-anchor="middle" fill="#333">150</text>
<line x1="254.29" y1="346.3" x2="254.29" y2="344" stroke="#333" stroke-width="0.8" />
<text x="253.79" y="353.5" font-size="6" text-anchor="middle" fill="#333">170</text>
<line x1="275.38" y1="346.3" x2="275.38" y2="344" stroke="#333" stroke-width="0.8" />
<text x="274.88" y="353.5" font-size="6" text-anchor="middle" fill="#333">190</text>
<line x1="296.47" y1="346.3" x2="296.47" y2="344" stroke="#333" stroke-width="0.8" />
<text x="295.97" y="353.5" font-size="6" text-anchor="middle" fill="#333">210</text>
<line x1="317.56" y1="346.3" x2="317.56" y2="344" stroke="#333" stroke-width="0.8" />
<text x="317.06" y="353.5" font-size="6" text-anchor="middle" fill="#333">230</text>
<line x1="338.65" y1="346.3" x2="338.65" y2="344" stroke="#333" stroke-width="0.8" />
<text x="338.15" y="353.5" font-size="6" text-anchor="middle" fill="#333">250</text>
<line x1="359.74" y1="346.3" x2="359.74" y2="344" stroke="#333" stroke-width="0.8" />
<text x="359.24" y="353.5" font-size="6" text-anchor="middle" fill="#333">270</text>
<line x1="380.83" y1="346.3" x2="380.83" y2="344" stroke="#333" stroke-width="0.8" />
<text x="380.33" y="353.5" font-size="6" text-anchor="middle" fill="#333">290</text>
<path d="M233.2,286.97 C236.71,289.19 247.26,301.29 254.29,300.31 C261.32,299.34 268.35,283.36 275.38,281.13 C282.41,278.91 289.44,284.61 296.47,286.97 C303.5,289.33 310.53,291.42 317.56,295.31 C324.59,299.2 331.62,308.79 338.65,310.32 C345.68,311.85 352.71,305.04 359.74,304.48 C366.77,303.93 377.31,306.57 380.83,306.99" fill="none" stroke="#b8601c" stroke-width="0.9"/>
<path d="M233.2,287.8 C236.71,290.86 247.26,306.15 254.29,306.15 C261.32,306.15 268.35,290.03 275.38,287.8 C282.41,285.58 289.44,289.89 296.47,292.81 C303.5,295.73 310.53,300.87 317.56,305.32 C324.59,309.77 331.62,318.11 338.65,319.5 C345.68,320.89 352.71,314.07 359.74,313.66 C366.77,313.24 377.31,316.44 380.83,316.99" fill="none" stroke="#6cb52e" stroke-width="0.9"/>
<path d="M233.2,289.47 C236.71,291.42 247.26,302.26 254.29,301.15 C261.32,300.04 268.35,284.88 275.38,282.8 C282.41,280.72 289.44,285.44 296.47,288.64 C303.5,291.84 310.53,295.59 317.56,301.98 C324.59,308.38 331.62,324.78 338.65,327 C345.68,329.23 352.71,317.27 359.74,315.33 C366.77,313.38 377.31,315.33 380.83,315.33" fill="none" stroke="#f8a94c" stroke-width="0.9"/>
<path d="M233.2,294.48 C236.71,295.87 247.26,303.65 254.29,302.82 C261.32,301.98 268.35,290.86 275.38,289.47 C282.41,288.08 289.44,291.56 296.47,294.48 C303.5,297.39 310.53,300.73 317.56,306.99 C324.59,313.24 331.62,328.11 338.65,332.01 C345.68,335.9 352.71,331.31 359.74,330.34 C366.77,329.37 377.31,326.86 380.83,326.17" fill="none" stroke="#e6198a" stroke-width="0.9"/>
<path d="M233.2,297.81 C236.71,299.76 247.26,309.9 254.29,309.49 C261.32,309.07 268.35,296.84 275.38,295.31 C282.41,293.78 289.44,297.26 296.47,300.31 C303.5,303.37 310.53,308.79 317.56,313.66 C324.59,318.52 331.62,327.42 338.65,329.5 C345.68,331.59 352.71,325.75 359.74,326.17 C366.77,326.59 377.31,331.03 380.83,332.01" fill="none" stroke="#2e75cc" stroke-width="0.9"/>
<path d="M233.2,297.81 C236.71,300.04 247.26,310.74 254.29,311.16 C261.32,311.57 268.35,301.15 275.38,300.31 C282.41,299.48 289.44,303.65 296.47,306.15 C303.5,308.65 310.53,310.46 317.56,315.33 C324.59,320.19 331.62,332.14 338.65,335.34 C345.68,338.54 352.71,333.95 359.74,334.51 C366.77,335.06 377.31,337.98 380.83,338.68" fill="none" stroke="#c590f0" stroke-width="0.9"/>
<rect x="231.31" y="285.08" width="3.78" height="3.78" fill="#b8601c"/>
<rect x="252.4" y="298.42" width="3.78" height="3.78" fill="#b8601c"/>
<rect x="273.49" y="279.24" width="3.78" height="3.78" fill="#b8601c"/>
<rect x="294.58" y="285.08" width="3.78" height="3.78" fill="#b8601c"/>
<rect x="315.67" y="293.42" width="3.78" height="3.78" fill="#b8601c"/>
<rect x="336.76" y="308.43" width="3.78" height="3.78" fill="#b8601c"/>
<rect x="357.85" y="302.59" width="3.78" height="3.78" fill="#b8601c"/>
<rect x="378.94" y="305.1" width="3.78" height="3.78" fill="#b8601c"/>
<circle cx="233.2" cy="287.8" r="2.1" fill="#6cb52e"/>
<circle cx="254.29" cy="306.15" r="2.1" fill="#6cb52e"/>
<circle cx="275.38" cy="287.8" r="2.1" fill="#6cb52e"/>
<circle cx="296.47" cy="292.81" r="2.1" fill="#6cb52e"/>
<circle cx="317.56" cy="305.32" r="2.1" fill="#6cb52e"/>
<circle cx="338.65" cy="319.5" r="2.1" fill="#6cb52e"/>
<circle cx="359.74" cy="313.66" r="2.1" fill="#6cb52e"/>
<circle cx="380.83" cy="316.99" r="2.1" fill="#6cb52e"/>
<polygon points="233.2,287.16 230.89,291.15 235.51,291.15" fill="#f8a94c"/>
<polygon points="254.29,298.84 251.98,302.83 256.6,302.83" fill="#f8a94c"/>
<polygon points="275.38,280.49 273.07,284.48 277.69,284.48" fill="#f8a94c"/>
<polygon points="296.47,286.33 294.16,290.32 298.78,290.32" fill="#f8a94c"/>
<polygon points="317.56,299.67 315.25,303.66 319.87,303.66" fill="#f8a94c"/>
<polygon points="338.65,324.69 336.34,328.68 340.96,328.68" fill="#f8a94c"/>
<polygon points="359.74,313.02 357.43,317.01 362.05,317.01" fill="#f8a94c"/>
<polygon points="380.83,313.02 378.52,317.01 383.14,317.01" fill="#f8a94c"/>
<polygon points="233.2,296.79 230.89,292.8 235.51,292.8" fill="#e6198a"/>
<polygon points="254.29,305.13 251.98,301.14 256.6,301.14" fill="#e6198a"/>
<polygon points="275.38,291.78 273.07,287.79 277.69,287.79" fill="#e6198a"/>
<polygon points="296.47,296.79 294.16,292.8 298.78,292.8" fill="#e6198a"/>
<polygon points="317.56,309.3 315.25,305.31 319.87,305.31" fill="#e6198a"/>
<polygon points="338.65,334.32 336.34,330.33 340.96,330.33" fill="#e6198a"/>
<polygon points="359.74,332.65 357.43,328.66 362.05,328.66" fill="#e6198a"/>
<polygon points="380.83,328.48 378.52,324.49 383.14,324.49" fill="#e6198a"/>
<polygon points="233.2,295.4 235.3,297.81 233.2,300.23 231.1,297.81" fill="#2e75cc"/>
<polygon points="254.29,307.07 256.39,309.49 254.29,311.9 252.19,309.49" fill="#2e75cc"/>
<polygon points="275.38,292.89 277.48,295.31 275.38,297.73 273.28,295.31" fill="#2e75cc"/>
<polygon points="296.47,297.9 298.57,300.31 296.47,302.73 294.37,300.31" fill="#2e75cc"/>
<polygon points="317.56,311.24 319.66,313.66 317.56,316.07 315.46,313.66" fill="#2e75cc"/>
<polygon points="338.65,327.09 340.75,329.5 338.65,331.92 336.55,329.5" fill="#2e75cc"/>
<polygon points="359.74,323.75 361.84,326.17 359.74,328.58 357.64,326.17" fill="#2e75cc"/>
<polygon points="380.83,329.59 382.93,332.01 380.83,334.42 378.73,332.01" fill="#2e75cc"/>
<polygon points="230.89,297.81 234.88,295.5 234.88,300.12" fill="#c590f0"/>
<polygon points="251.98,311.16 255.97,308.85 255.97,313.47" fill="#c590f0"/>
<polygon points="273.07,300.31 277.06,298 277.06,302.62" fill="#c590f0"/>
<polygon points="294.16,306.15 298.15,303.84 298.15,308.46" fill="#c590f0"/>
<polygon points="315.25,315.33 319.24,313.02 319.24,317.64" fill="#c590f0"/>
<polygon points="336.34,335.34 340.33,333.03 340.33,337.65" fill="#c590f0"/>
<polygon points="357.43,334.51 361.42,332.2 361.42,336.82" fill="#c590f0"/>
<polygon points="378.52,338.68 382.51,336.37 382.51,340.99" fill="#c590f0"/>
<line x1="235" y1="225" x2="249.3" y2="225" stroke="#b8601c" stroke-width="0.9" />
<rect x="240.71" y="223.11" width="3.78" height="3.78" fill="#b8601c"/>
<text x="251.8" y="227.3" font-size="6.8" text-anchor="start" fill="#1a1a1a" letter-spacing="0.15" stroke="#1a1a1a" stroke-width="0.18">4 h</text>
<line x1="235" y1="233.46" x2="249.3" y2="233.46" stroke="#6cb52e" stroke-width="0.9" />
<circle cx="242.6" cy="233.46" r="2.1" fill="#6cb52e"/>
<text x="251.8" y="235.76" font-size="6.8" text-anchor="start" fill="#1a1a1a" letter-spacing="0.15" stroke="#1a1a1a" stroke-width="0.18">8 h</text>
<line x1="235" y1="241.92" x2="249.3" y2="241.92" stroke="#f8a94c" stroke-width="0.9" />
<polygon points="242.6,239.61 240.29,243.6 244.91,243.6" fill="#f8a94c"/>
<text x="251.8" y="244.22" font-size="6.8" text-anchor="start" fill="#1a1a1a" letter-spacing="0.15" stroke="#1a1a1a" stroke-width="0.18">12 h</text>
<line x1="235" y1="250.38" x2="249.3" y2="250.38" stroke="#e6198a" stroke-width="0.9" />
<polygon points="242.6,252.69 240.29,248.7 244.91,248.7" fill="#e6198a"/>
<text x="251.8" y="252.68" font-size="6.8" text-anchor="start" fill="#1a1a1a" letter-spacing="0.15" stroke="#1a1a1a" stroke-width="0.18">16 h</text>
<line x1="235" y1="258.84" x2="249.3" y2="258.84" stroke="#2e75cc" stroke-width="0.9" />
<polygon points="242.6,256.43 244.7,258.84 242.6,261.26 240.5,258.84" fill="#2e75cc"/>
<text x="251.8" y="261.14" font-size="6.8" text-anchor="start" fill="#1a1a1a" letter-spacing="0.15" stroke="#1a1a1a" stroke-width="0.18">20 h</text>
<line x1="235" y1="267.3" x2="249.3" y2="267.3" stroke="#c590f0" stroke-width="0.9" />
<polygon points="240.29,267.3 244.28,264.99 244.28,269.61" fill="#c590f0"/>
<text x="251.8" y="269.6" font-size="6.8" text-anchor="start" fill="#1a1a1a" letter-spacing="0.15" stroke="#1a1a1a" stroke-width="0.18">24 h</text>
<text x="357.5" y="232.6" font-size="15" text-anchor="middle" font-weight="bold" letter-spacing="0.4" fill="#111">(d)</text>
<text x="280.9" y="363.4" font-size="7.2" text-anchor="start" font-weight="bold" textLength="51.6" lengthAdjust="spacingAndGlyphs" stroke="#111" stroke-width="0.12">Temperature(℃)</text>
<text x="209.3" y="280.7" font-size="7" font-weight="bold" text-anchor="middle" transform="rotate(-90 209.3 280.7)" letter-spacing="-0.05" stroke="#111" stroke-width="0.15" fill="#111">Response coefficient</text>
<rect x="222" y="392.8" width="171.1" height="133.2" fill="none" stroke="#3c3c3c" stroke-width="1.1"/>
<line x1="222" y1="446.1" x2="393.1" y2="446.1" stroke="#555" stroke-width="0.9" stroke-dasharray="1.5 2"/>
<line x1="222" y1="499.5" x2="224.3" y2="499.5" stroke="#333" stroke-width="0.8" />
<text x="219.2" y="501.5" font-size="6" text-anchor="end" fill="#333">0.5</text>
<line x1="222" y1="446.1" x2="224.3" y2="446.1" stroke="#333" stroke-width="0.8" />
<text x="219.2" y="448.1" font-size="6" text-anchor="end" fill="#333">1.0</text>
<line x1="222" y1="392.7" x2="224.3" y2="392.7" stroke="#333" stroke-width="0.8" />
<text x="219.2" y="394.7" font-size="6" text-anchor="end" fill="#333">1.5</text>
<line x1="233.2" y1="526" x2="233.2" y2="523.7" stroke="#333" stroke-width="0.8" />
<text x="232.7" y="533.3" font-size="6" text-anchor="middle" fill="#333">150</text>
<line x1="254.29" y1="526" x2="254.29" y2="523.7" stroke="#333" stroke-width="0.8" />
<text x="253.79" y="533.3" font-size="6" text-anchor="middle" fill="#333">170</text>
<line x1="275.38" y1="526" x2="275.38" y2="523.7" stroke="#333" stroke-width="0.8" />
<text x="274.88" y="533.3" font-size="6" text-anchor="middle" fill="#333">190</text>
<line x1="296.47" y1="526" x2="296.47" y2="523.7" stroke="#333" stroke-width="0.8" />
<text x="295.97" y="533.3" font-size="6" text-anchor="middle" fill="#333">210</text>
<line x1="317.56" y1="526" x2="317.56" y2="523.7" stroke="#333" stroke-width="0.8" />
<text x="317.06" y="533.3" font-size="6" text-anchor="middle" fill="#333">230</text>
<line x1="338.65" y1="526" x2="338.65" y2="523.7" stroke="#333" stroke-width="0.8" />
<text x="338.15" y="533.3" font-size="6" text-anchor="middle" fill="#333">250</text>
<line x1="359.74" y1="526" x2="359.74" y2="523.7" stroke="#333" stroke-width="0.8" />
<text x="359.24" y="533.3" font-size="6" text-anchor="middle" fill="#333">270</text>
<line x1="380.83" y1="526" x2="380.83" y2="523.7" stroke="#333" stroke-width="0.8" />
<text x="380.33" y="533.3" font-size="6" text-anchor="middle" fill="#333">290</text>
<path d="M233.2,456.78 C236.71,457.14 247.26,458.92 254.29,458.92 C261.32,458.92 268.35,457.14 275.38,456.78 C282.41,456.42 289.44,456.96 296.47,456.78 C303.5,456.6 310.53,451.08 317.56,455.71 C324.59,460.34 331.62,479.92 338.65,484.55 C345.68,489.18 352.71,483.12 359.74,483.48 C366.77,483.84 377.31,486.15 380.83,486.68" fill="none" stroke="#b8601c" stroke-width="0.9"/>
<path d="M233.2,457.85 C236.71,459.63 247.26,467.46 254.29,468.53 C261.32,469.6 268.35,464.97 275.38,464.26 C282.41,463.54 289.44,463.37 296.47,464.26 C303.5,465.15 310.53,464.43 317.56,469.6 C324.59,474.76 331.62,491.31 338.65,495.23 C345.68,499.14 352.71,492.91 359.74,493.09 C366.77,493.27 377.31,495.76 380.83,496.3" fill="none" stroke="#6cb52e" stroke-width="0.9"/>
<path d="M233.2,459.98 C236.71,460.52 247.26,463.37 254.29,463.19 C261.32,463.01 268.35,459.81 275.38,458.92 C282.41,458.03 289.44,456.78 296.47,457.85 C303.5,458.92 310.53,458.03 317.56,465.32 C324.59,472.62 331.62,496.65 338.65,501.64 C345.68,506.62 352.71,495.76 359.74,495.23 C366.77,494.69 377.31,497.9 380.83,498.43" fill="none" stroke="#f8a94c" stroke-width="0.9"/>
<path d="M233.2,465.32 C236.71,465.5 247.26,466.57 254.29,466.39 C261.32,466.21 268.35,464.61 275.38,464.26 C282.41,463.9 289.44,463.37 296.47,464.26 C303.5,465.15 310.53,462.83 317.56,469.6 C324.59,476.36 331.62,498.79 338.65,504.84 C345.68,510.89 352.71,505.73 359.74,505.91 C366.77,506.09 377.31,505.91 380.83,505.91" fill="none" stroke="#e6198a" stroke-width="0.9"/>
<path d="M233.2,470.66 C236.71,471.55 247.26,475.65 254.29,476 C261.32,476.36 268.35,473.87 275.38,472.8 C282.41,471.73 289.44,469.6 296.47,469.6 C303.5,469.6 310.53,466.39 317.56,472.8 C324.59,479.21 331.62,502.17 338.65,508.04 C345.68,513.92 352.71,508.04 359.74,508.04 C366.77,508.04 377.31,508.04 380.83,508.04" fill="none" stroke="#2e75cc" stroke-width="0.9"/>
<path d="M233.2,470.66 C236.71,471.55 247.26,474.76 254.29,476 C261.32,477.25 268.35,477.61 275.38,478.14 C282.41,478.67 289.44,478.14 296.47,479.21 C303.5,480.28 310.53,478.67 317.56,484.55 C324.59,490.42 331.62,510 338.65,514.45 C345.68,518.9 352.71,511.96 359.74,511.25 C366.77,510.54 377.31,510.36 380.83,510.18" fill="none" stroke="#c590f0" stroke-width="0.9"/>
<rect x="231.31" y="454.89" width="3.78" height="3.78" fill="#b8601c"/>
<rect x="252.4" y="457.03" width="3.78" height="3.78" fill="#b8601c"/>
<rect x="273.49" y="454.89" width="3.78" height="3.78" fill="#b8601c"/>
<rect x="294.58" y="454.89" width="3.78" height="3.78" fill="#b8601c"/>
<rect x="315.67" y="453.82" width="3.78" height="3.78" fill="#b8601c"/>
<rect x="336.76" y="482.66" width="3.78" height="3.78" fill="#b8601c"/>
<rect x="357.85" y="481.59" width="3.78" height="3.78" fill="#b8601c"/>
<rect x="378.94" y="484.79" width="3.78" height="3.78" fill="#b8601c"/>
<circle cx="233.2" cy="457.85" r="2.1" fill="#6cb52e"/>
<circle cx="254.29" cy="468.53" r="2.1" fill="#6cb52e"/>
<circle cx="275.38" cy="464.26" r="2.1" fill="#6cb52e"/>
<circle cx="296.47" cy="464.26" r="2.1" fill="#6cb52e"/>
<circle cx="317.56" cy="469.6" r="2.1" fill="#6cb52e"/>
<circle cx="338.65" cy="495.23" r="2.1" fill="#6cb52e"/>
<circle cx="359.74" cy="493.09" r="2.1" fill="#6cb52e"/>
<circle cx="380.83" cy="496.3" r="2.1" fill="#6cb52e"/>
<polygon points="233.2,457.67 230.89,461.66 235.51,461.66" fill="#f8a94c"/>
<polygon points="254.29,460.88 251.98,464.87 256.6,464.87" fill="#f8a94c"/>
<polygon points="275.38,456.61 273.07,460.6 277.69,460.6" fill="#f8a94c"/>
<polygon points="296.47,455.54 294.16,459.53 298.78,459.53" fill="#f8a94c"/>
<polygon points="317.56,463.01 315.25,467 319.87,467" fill="#f8a94c"/>
<polygon points="338.65,499.33 336.34,503.32 340.96,503.32" fill="#f8a94c"/>
<polygon points="359.74,492.92 357.43,496.91 362.05,496.91" fill="#f8a94c"/>
<polygon points="380.83,496.12 378.52,500.11 383.14,500.11" fill="#f8a94c"/>
<polygon points="233.2,467.63 230.89,463.64 235.51,463.64" fill="#e6198a"/>
<polygon points="254.29,468.7 251.98,464.71 256.6,464.71" fill="#e6198a"/>
<polygon points="275.38,466.57 273.07,462.58 277.69,462.58" fill="#e6198a"/>
<polygon points="296.47,466.57 294.16,462.58 298.78,462.58" fill="#e6198a"/>
<polygon points="317.56,471.91 315.25,467.92 319.87,467.92" fill="#e6198a"/>
<polygon points="338.65,507.15 336.34,503.16 340.96,503.16" fill="#e6198a"/>
<polygon points="359.74,508.22 357.43,504.23 362.05,504.23" fill="#e6198a"/>
<polygon points="380.83,508.22 378.52,504.23 383.14,504.23" fill="#e6198a"/>
<polygon points="233.2,468.25 235.3,470.66 233.2,473.08 231.1,470.66" fill="#2e75cc"/>
<polygon points="254.29,473.59 256.39,476 254.29,478.42 252.19,476" fill="#2e75cc"/>
<polygon points="275.38,470.38 277.48,472.8 275.38,475.22 273.28,472.8" fill="#2e75cc"/>
<polygon points="296.47,467.18 298.57,469.6 296.47,472.01 294.37,469.6" fill="#2e75cc"/>
<polygon points="317.56,470.38 319.66,472.8 317.56,475.22 315.46,472.8" fill="#2e75cc"/>
<polygon points="338.65,505.63 340.75,508.04 338.65,510.46 336.55,508.04" fill="#2e75cc"/>
<polygon points="359.74,505.63 361.84,508.04 359.74,510.46 357.64,508.04" fill="#2e75cc"/>
<polygon points="380.83,505.63 382.93,508.04 380.83,510.46 378.73,508.04" fill="#2e75cc"/>
<polygon points="230.89,470.66 234.88,468.35 234.88,472.97" fill="#c590f0"/>
<polygon points="251.98,476 255.97,473.69 255.97,478.31" fill="#c590f0"/>
<polygon points="273.07,478.14 277.06,475.83 277.06,480.45" fill="#c590f0"/>
<polygon points="294.16,479.21 298.15,476.9 298.15,481.52" fill="#c590f0"/>
<polygon points="315.25,484.55 319.24,482.24 319.24,486.86" fill="#c590f0"/>
<polygon points="336.34,514.45 340.33,512.14 340.33,516.76" fill="#c590f0"/>
<polygon points="357.43,511.25 361.42,508.94 361.42,513.56" fill="#c590f0"/>
<polygon points="378.52,510.18 382.51,507.87 382.51,512.49" fill="#c590f0"/>
<line x1="235" y1="402.2" x2="248" y2="402.2" stroke="#b8601c" stroke-width="0.9" />
<rect x="239.51" y="400.31" width="3.78" height="3.78" fill="#b8601c"/>
<text x="250" y="404.5" font-size="6" text-anchor="start" fill="#1a1a1a" letter-spacing="0.15" stroke="#1a1a1a" stroke-width="0.06">4 h</text>
<line x1="235" y1="409.28" x2="248" y2="409.28" stroke="#6cb52e" stroke-width="0.9" />
<circle cx="241.4" cy="409.28" r="2.1" fill="#6cb52e"/>
<text x="250" y="411.58" font-size="6" text-anchor="start" fill="#1a1a1a" letter-spacing="0.15" stroke="#1a1a1a" stroke-width="0.06">8 h</text>
<line x1="235" y1="416.36" x2="248" y2="416.36" stroke="#f8a94c" stroke-width="0.9" />
<polygon points="241.4,414.05 239.09,418.04 243.71,418.04" fill="#f8a94c"/>
<text x="250" y="418.66" font-size="6" text-anchor="start" fill="#1a1a1a" letter-spacing="0.15" stroke="#1a1a1a" stroke-width="0.06">12 h</text>
<line x1="235" y1="423.44" x2="248" y2="423.44" stroke="#e6198a" stroke-width="0.9" />
<polygon points="241.4,425.75 239.09,421.76 243.71,421.76" fill="#e6198a"/>
<text x="250" y="425.74" font-size="6" text-anchor="start" fill="#1a1a1a" letter-spacing="0.15" stroke="#1a1a1a" stroke-width="0.06">16 h</text>
<line x1="235" y1="430.52" x2="248" y2="430.52" stroke="#2e75cc" stroke-width="0.9" />
<polygon points="241.4,428.1 243.5,430.52 241.4,432.94 239.3,430.52" fill="#2e75cc"/>
<text x="250" y="432.82" font-size="6" text-anchor="start" fill="#1a1a1a" letter-spacing="0.15" stroke="#1a1a1a" stroke-width="0.06">20 h</text>
<line x1="235" y1="437.6" x2="248" y2="437.6" stroke="#c590f0" stroke-width="0.9" />
<polygon points="239.09,437.6 243.08,435.29 243.08,439.91" fill="#c590f0"/>
<text x="250" y="439.9" font-size="6" text-anchor="start" fill="#1a1a1a" letter-spacing="0.15" stroke="#1a1a1a" stroke-width="0.06">24 h</text>
<text x="356" y="414.6" font-size="15" text-anchor="middle" font-weight="bold" letter-spacing="0.4" fill="#111">(f)</text>
<text x="280.9" y="542.8" font-size="7.2" text-anchor="start" font-weight="bold" textLength="51.6" lengthAdjust="spacingAndGlyphs" stroke="#111" stroke-width="0.12">Temperature(℃)</text>
<text x="209.3" y="459.5" font-size="7" font-weight="bold" text-anchor="middle" transform="rotate(-90 209.3 459.5)" letter-spacing="-0.05" stroke="#111" stroke-width="0.15" fill="#111">Response coefficient</text>
</svg>
</body></html>
